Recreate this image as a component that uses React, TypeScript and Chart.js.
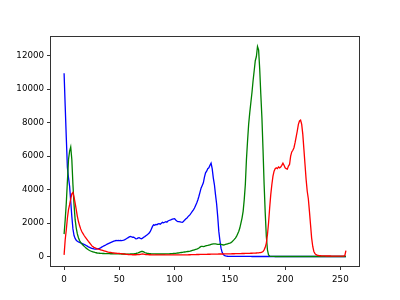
import React, { useEffect, useRef } from "react";
import { Chart, registerables } from "chart.js";

Chart.register(...registerables);

// Histogram bins (pixel intensity 0..255)
const BIN_COUNT = 256;
const bins: number[] = Array.from({ length: BIN_COUNT }, (_, i) => i);

// Blue channel counts
const blueCounts: number[] = [
  10950, 9000, 7100, 5300, 4700, 4200, 3300, 2400, 1650, 1250, 1080, 970, 910, 870, 840, 810,
  780, 750, 720, 690, 660, 620, 580, 550, 520, 490, 470, 450, 440, 440, 450, 470,
  490, 520, 560, 600, 630, 660, 700, 740, 770, 800, 830, 860, 890, 920, 940, 955,
  950, 960, 950, 960, 945, 960, 980, 1010, 1050, 1090, 1130, 1170, 1200, 1180, 1150, 1160,
  1110, 1060, 1070, 1110, 1120, 1080, 1060, 1100, 1150, 1190, 1240, 1290, 1340, 1400, 1500, 1650,
  1800, 1890, 1870, 1920, 1900, 1950, 1960, 1930, 1990, 2040, 2010, 2050, 2080, 2050, 2120, 2150,
  2180, 2200, 2230, 2250, 2260, 2180, 2120, 2090, 2080, 2070, 2050, 2040, 2090, 2170, 2240, 2290,
  2370, 2440, 2500, 2600, 2700, 2790, 2900, 3050, 3200, 3380, 3600, 3850, 4100, 4250, 4400, 4750,
  5000, 5100, 5250, 5300, 5450, 5580, 5250, 4700, 4300, 3700, 3150, 2400, 1500, 950, 500, 250,
  130, 70, 40, 25, 15, 10, 8, 6, 5, 5, 4, 4, 3, 3, 3, 3,
  2, 2, 2, 2, 2, 2, 2, 2, 2, 2, 1, 1, 1, 1, 1, 1,
  0, 0, 0, 0, 0, 0, 0, 0, 0, 0, 0, 0, 0, 0, 0, 0,
  0, 0, 0, 0, 0, 0, 0, 0, 0, 0, 0, 0, 0, 0, 0, 0,
  0, 0, 0, 0, 0, 0, 0, 0, 0, 0, 0, 0, 0, 0, 0, 0,
  0, 0, 0, 0, 0, 0, 0, 0, 0, 0, 0, 0, 0, 0, 0, 0,
  0, 0, 0, 0, 0, 0, 0, 0, 0, 0, 0, 0, 0, 0, 0, 0,
];

// Green channel counts
const greenCounts: number[] = [
  1340, 2200, 3200, 4500, 5800, 6300, 6550, 5800, 4300, 3100, 2200, 1700, 1350, 1120, 950, 850,
  760, 690, 620, 560, 500, 450, 400, 360, 330, 300, 280, 260, 240, 225, 210, 200,
  195, 190, 185, 180, 180, 175, 175, 170, 170, 170, 165, 165, 165, 160, 160, 160,
  160, 155, 155, 155, 150, 150, 150, 150, 145, 145, 145, 145, 150, 150, 155, 160,
  170, 180, 200, 220, 250, 280, 300, 310, 280, 240, 210, 190, 180, 170, 165, 160,
  160, 155, 155, 150, 150, 150, 150, 150, 150, 150, 150, 150, 155, 155, 160, 160,
  165, 170, 175, 180, 185, 190, 200, 210, 220, 230, 240, 250, 260, 270, 280, 290,
  300, 310, 320, 340, 360, 380, 400, 420, 440, 470, 510, 560, 600, 600, 590, 610,
  630, 650, 660, 680, 700, 720, 740, 760, 760, 750, 740, 730, 730, 740, 730, 710,
  690, 700, 720, 740, 760, 780, 800, 830, 880, 950, 1020, 1100, 1200, 1350, 1500, 1700,
  2000, 2300, 2700, 3400, 4300, 5800, 6900, 7900, 8600, 9200, 9800, 10500, 11100, 11700, 11950, 12550,
  12350, 11200, 9700, 8300, 6400, 4300, 2600, 1200, 400, 100, 30, 10, 5, 3, 2, 1,
  0, 0, 0, 0, 0, 0, 0, 0, 0, 0, 0, 0, 0, 0, 0, 0,
  0, 0, 0, 0, 0, 0, 0, 0, 0, 0, 0, 0, 0, 0, 0, 0,
  0, 0, 0, 0, 0, 0, 0, 0, 0, 0, 0, 0, 0, 0, 0, 0,
  0, 0, 0, 0, 0, 0, 0, 0, 0, 0, 0, 0, 0, 0, 0, 0,
];

// Red channel counts
const redCounts: number[] = [
  100, 1000, 1600, 2300, 2800, 3100, 3450, 3750, 3830, 3550, 3190, 2800, 2400, 2090, 1850, 1650,
  1490, 1380, 1270, 1170, 1080, 990, 900, 820, 740, 650, 590, 550, 520, 490, 460, 440,
  420, 400, 380, 360, 340, 320, 300, 280, 260, 250, 240, 230, 220, 210, 200, 195,
  190, 185, 180, 175, 170, 160, 150, 140, 130, 125, 120, 115, 110, 110, 105, 105,
  105, 105, 110, 115, 120, 130, 140, 150, 140, 130, 120, 115, 110, 105, 105, 100,
  100, 95, 100, 95, 100, 100, 95, 100, 100, 95, 100, 100, 95, 100, 100, 100,
  100, 95, 100, 100, 95, 100, 100, 100, 95, 100, 100, 100, 100, 95, 100, 100,
  100, 105, 105, 110, 110, 110, 115, 115, 120, 120, 120, 125, 125, 125, 130, 130,
  130, 130, 135, 135, 135, 140, 140, 140, 140, 145, 145, 145, 150, 150, 150, 150,
  150, 155, 155, 155, 160, 160, 160, 160, 165, 165, 165, 170, 170, 170, 175, 175,
  175, 180, 180, 180, 185, 185, 190, 190, 190, 195, 195, 200, 200, 205, 210, 215,
  220, 230, 240, 260, 300, 400, 550, 800, 1300, 2000, 2900, 3700, 4300, 4800, 5100, 5250,
  5300, 5250, 5350, 5300, 5350, 5450, 5580, 5450, 5300, 5250, 5220, 5400, 5500, 6000, 6250, 6350,
  6500, 6800, 7150, 7500, 7900, 8100, 8150, 7900, 7300, 6400, 5500, 4600, 3900, 3450, 2700, 1900,
  1100, 600, 300, 170, 110, 80, 60, 50, 45, 40, 40, 35, 35, 30, 30, 30,
  30, 30, 25, 25, 25, 25, 25, 25, 20, 20, 20, 20, 20, 20, 50, 350,
];

const X_TICKS: number[] = [0, 50, 100, 150, 200, 250];
const Y_TICKS: number[] = [0, 2000, 4000, 6000, 8000, 10000, 12000];

const X_MIN = -12.75;
const X_MAX = 267.75;
const Y_MIN = -627;
const Y_MAX = 13177;

const FONT = { family: "'DejaVu Sans', sans-serif", size: 8.7 };

const spinePlugin = {
  id: "spines",
  afterDraw(chart: any) {
    const { ctx, chartArea } = chart;
    const { left, right, top, bottom } = chartArea;
    ctx.save();
    ctx.strokeStyle = "rgba(0,0,0,0.8)";
    ctx.lineWidth = 1;
    ctx.strokeRect(left + 0.5, top + 0.5, right - left - 1, bottom - top - 1);
    ctx.restore();
  },
};

const toPoints = (vals: number[]) => bins.map((b, i) => ({ x: b, y: vals[i] }));

export default function App() {
  const canvasRef = useRef<HTMLCanvasElement | null>(null);

  useEffect(() => {
    if (!canvasRef.current) return;
    const chart = new Chart(canvasRef.current, {
      type: "line",
      data: {
        datasets: [
          {
            label: "r",
            data: toPoints(redCounts),
            borderColor: "#ff0000",
            borderWidth: 1.3,
            pointRadius: 0,
            tension: 0,
            fill: false,
          },
          {
            label: "g",
            data: toPoints(greenCounts),
            borderColor: "#008000",
            borderWidth: 1.3,
            pointRadius: 0,
            tension: 0,
            fill: false,
          },
          {
            label: "b",
            data: toPoints(blueCounts),
            borderColor: "#0000ff",
            borderWidth: 1.3,
            pointRadius: 0,
            tension: 0,
            fill: false,
          },
        ],
      },
      options: {
        animation: false,
        responsive: false,
        devicePixelRatio: 1,
        layout: { padding: { top: 36, right: 40, left: 0, bottom: 0 } },
        plugins: {
          legend: { display: false },
          tooltip: { enabled: false },
        },
        scales: {
          x: {
            type: "linear",
            min: X_MIN,
            max: X_MAX,
            afterBuildTicks: (s: any) => {
              s.ticks = X_TICKS.map((v) => ({ value: v }));
            },
            afterFit: (s: any) => {
              s.height = 33;
            },
            ticks: {
              font: FONT,
              color: "#000",
              padding: 5,
              maxRotation: 0,
              autoSkip: false,
              callback: (v: any) => String(v),
            },
            grid: {
              drawOnChartArea: false,
              drawTicks: true,
              tickLength: 3,
              tickColor: "#000",
              tickWidth: 0.8,
            },
            border: { display: false },
          },
          y: {
            type: "linear",
            min: Y_MIN,
            max: Y_MAX,
            afterBuildTicks: (s: any) => {
              s.ticks = Y_TICKS.map((v) => ({ value: v }));
            },
            afterFit: (s: any) => {
              s.width = 50;
            },
            ticks: {
              font: FONT,
              color: "#000",
              padding: 3,
              autoSkip: false,
              callback: (v: any) => String(v),
            },
            grid: {
              drawOnChartArea: false,
              drawTicks: true,
              tickLength: 3,
              tickColor: "#000",
              tickWidth: 0.8,
            },
            border: { display: false },
          },
        },
      },
      plugins: [spinePlugin],
    });
    return () => chart.destroy();
  }, []);

  return (
    <div style={{ position: "fixed", left: 0, top: 0, width: 400, height: 300, background: "#fff" }}>
      <canvas ref={canvasRef} width={400} height={300} style={{ width: 400, height: 300 }} />
    </div>
  );
}
